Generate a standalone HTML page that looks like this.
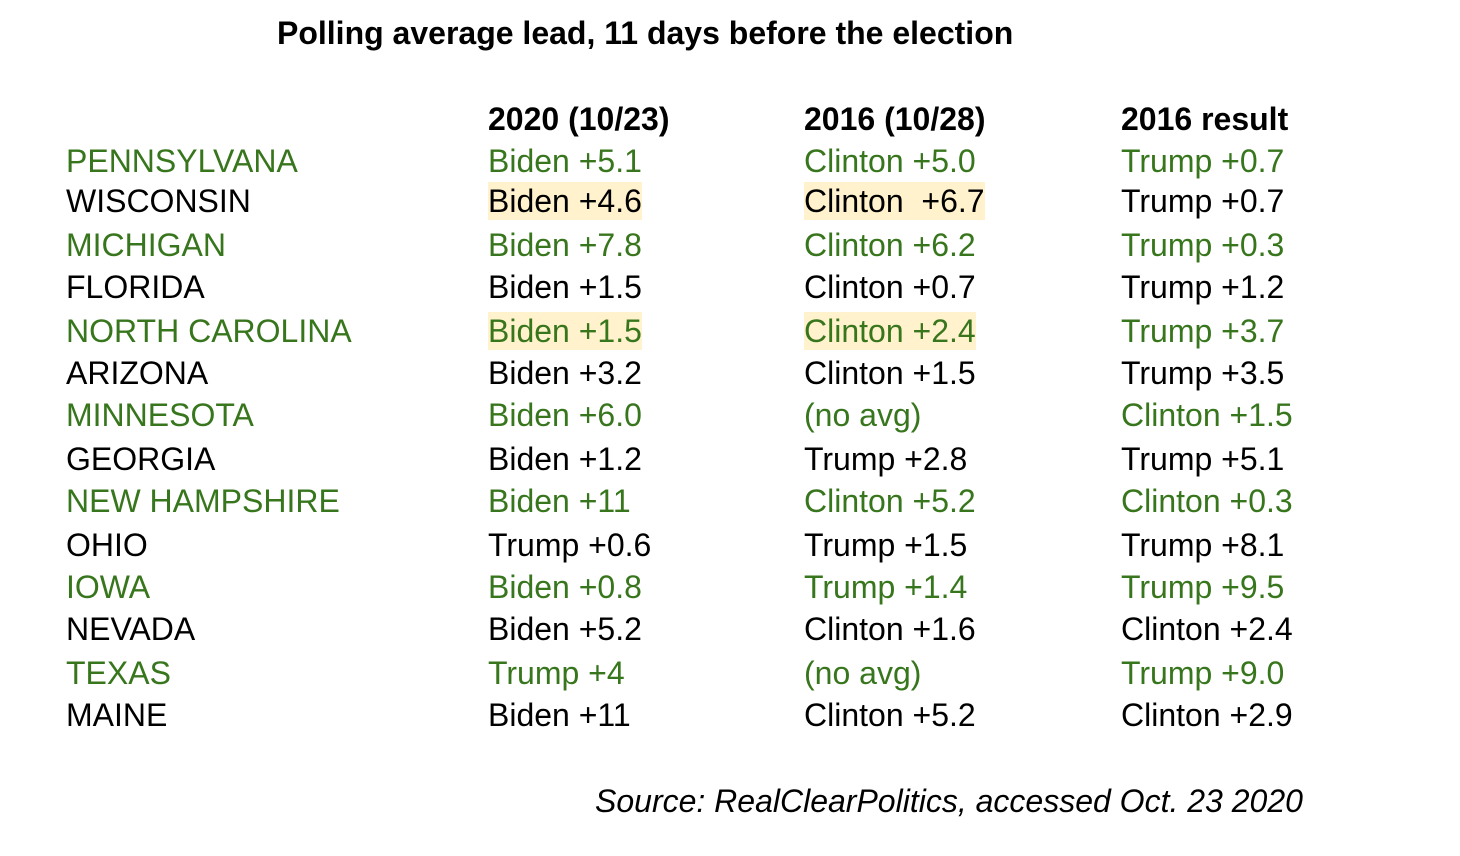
<!DOCTYPE html>
<html><head><style>
body{margin:0;width:1460px;height:856px;background:#fff;position:relative;overflow:hidden;font-family:"Liberation Sans",Arial,sans-serif;}
.t{position:absolute;white-space:nowrap;font-size:32px;line-height:38px;height:38px;}
.g{color:#38761d}
.k{color:#000}
.h{background:#fff2cc}
.b{font-weight:bold}
</style></head><body>
<div class="t b" style="left:277px;top:14px;font-size:32px">Polling average lead, 11 days before the election</div>
<div class="t b" style="left:488px;top:100px;font-size:32px">2020 (10/23)</div>
<div class="t b" style="left:804px;top:100px;font-size:32px">2016 (10/28)</div>
<div class="t b" style="left:1121px;top:100px;font-size:32px">2016 result</div>
<div id="rows"></div>
<div class="t" style="left:595px;top:782px;font-size:32px;font-style:italic">Source: RealClearPolitics, accessed Oct. 23 2020</div>
<script>
var d=[["PENNSYLVANA","Biden +5.1","Clinton +5.0","Trump +0.7",161],
["WISCONSIN","Biden +4.6","Clinton&nbsp; +6.7","Trump +0.7",201],
["MICHIGAN","Biden +7.8","Clinton +6.2","Trump +0.3",245],
["FLORIDA","Biden +1.5","Clinton +0.7","Trump +1.2",287],
["NORTH CAROLINA","Biden +1.5","Clinton +2.4","Trump +3.7",331],
["ARIZONA","Biden +3.2","Clinton +1.5","Trump +3.5",373],
["MINNESOTA","Biden +6.0","(no avg)","Clinton +1.5",415],
["GEORGIA","Biden +1.2","Trump +2.8","Trump +5.1",459],
["NEW HAMPSHIRE","Biden +11","Clinton +5.2","Clinton +0.3",501],
["OHIO","Trump +0.6","Trump +1.5","Trump +8.1",545],
["IOWA","Biden +0.8","Trump +1.4","Trump +9.5",587],
["NEVADA","Biden +5.2","Clinton +1.6","Clinton +2.4",629],
["TEXAS","Trump +4","(no avg)","Trump +9.0",673],
["MAINE","Biden +11","Clinton +5.2","Clinton +2.9",715]];
var h="";
d.forEach(function(r,i){var c=i%2?"k":"g";var top=r[4]-19;var hl=(i==1||i==4)?" h":"";
h+='<div class="t '+c+'" style="left:66px;top:'+top+'px">'+r[0]+'</div>';
h+='<div class="t '+c+hl+'" style="left:488px;top:'+top+'px">'+r[1]+'</div>';
h+='<div class="t '+c+hl+'" style="left:804px;top:'+top+'px">'+r[2]+'</div>';
h+='<div class="t '+c+'" style="left:1121px;top:'+top+'px">'+r[3]+'</div>';});
document.getElementById("rows").innerHTML=h;
</script>
</body></html>
